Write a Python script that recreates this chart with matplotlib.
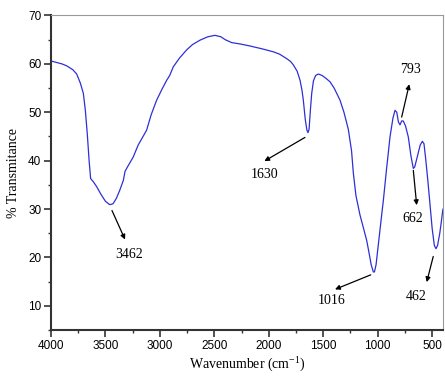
import matplotlib
matplotlib.use("Agg")
import matplotlib.pyplot as plt
from matplotlib.ticker import MultipleLocator

plt.rcParams["mathtext.fontset"] = "custom"
plt.rcParams["mathtext.rm"] = "Liberation Serif"
plt.rcParams["mathtext.it"] = "Liberation Serif:italic"

# FTIR spectrum
wavenumber = [4000, 3900, 3856, 3800, 3764, 3730, 3703, 3685, 3667, 3650,
              3636, 3610, 3580, 3540, 3500, 3460, 3430, 3400, 3370, 3336,
              3320, 3290, 3244, 3200, 3122, 3080, 3030, 2980, 2938, 2910,
              2877, 2820, 2754, 2700, 2632, 2560, 2494, 2440, 2400, 2341,
              2260, 2173, 2060, 1959, 1900, 1837, 1800, 1775, 1740, 1713,
              1695, 1683, 1665, 1650, 1640, 1630, 1618, 1606, 1590, 1570,
              1545, 1510, 1475, 1438, 1400, 1346, 1310, 1270, 1240, 1224,
              1200, 1163, 1130, 1101, 1080, 1060, 1040, 1030, 1015, 990,
              960, 948, 920, 887, 860, 841, 825, 810, 795, 780,
              765, 745, 719, 695, 673, 660, 640, 610, 590, 575,
              560, 540, 520, 500, 480, 465, 450, 430, 415, 403, 400]
transmittance = [60.6, 60.0, 59.6, 58.8, 57.9, 56.0, 53.9, 50.5, 45.6, 40.0,
                 36.3, 35.6, 34.6, 33.0, 31.6, 30.9, 31.1, 32.2, 33.8, 35.9,
                 37.8, 39.0, 40.8, 43.2, 46.3, 49.5, 52.5, 54.8, 56.6, 57.6,
                 59.4, 61.2, 62.9, 64.0, 64.9, 65.6, 65.9, 65.6, 65.0, 64.4,
                 64.1, 63.7, 63.1, 62.5, 62.0, 61.1, 60.5, 59.8, 58.5, 56.6,
                 54.5, 52.5, 48.5, 46.3, 45.8, 46.5, 50.5, 53.9, 56.5, 57.6,
                 57.9, 57.6, 57.0, 56.3, 55.0, 52.5, 50.0, 46.5, 42.0, 37.5,
                 32.8, 28.8, 26.0, 23.5, 21.0, 18.5, 17.0, 17.0, 18.5, 23.5,
                 29.5, 31.8, 38.0, 44.9, 48.8, 50.4, 50.0, 48.0, 47.4, 48.2,
                 48.2, 47.2, 44.9, 41.0, 38.4, 38.7, 40.5, 43.2, 44.0, 43.5,
                 40.5, 36.0, 31.0, 26.0, 22.5, 21.8, 22.5, 25.0, 27.5, 29.7, 30.0]

# peak labels: text, arrow tail (near peak), arrow head, text position
peak_labels = ["3462", "1630", "1016", "793", "662", "462"]
arrow_tail = [(3440, 29.7), (1668, 44.8), (1064, 16.4), (780, 49.0), (673, 38.0), (490, 20.2)]
arrow_head = [(3320, 23.7), (2041, 39.9), (1392, 13.4), (710, 55.8), (642, 30.8), (550, 14.9)]
label_pos = [(3281, 20.6), (2035, 37.2), (1423, 11.1), (697, 58.9), (680, 28.0), (648, 11.9)]

fig = plt.figure(figsize=(4.45, 3.76), dpi=100)
ax = fig.add_axes([0.1146, 0.1223, 0.881, 0.8365])

ax.plot(wavenumber, transmittance, color="#2f2fd6", lw=0.9)

for lab, tail, head, pos in zip(peak_labels, arrow_tail, arrow_head, label_pos):
    ax.annotate("", xy=head, xytext=tail,
                arrowprops=dict(arrowstyle="-|>", color="black", lw=0.9,
                                mutation_scale=7, shrinkA=0, shrinkB=0))
    ax.text(pos[0], pos[1], lab, ha="center", va="center",
            family="Liberation Serif", fontsize=10)

ax.set_xlim(4000, 400)
ax.set_ylim(5, 70)
ax.xaxis.set_major_locator(MultipleLocator(500))
ax.xaxis.set_minor_locator(MultipleLocator(250))
ax.yaxis.set_major_locator(MultipleLocator(10))
ax.yaxis.set_minor_locator(MultipleLocator(5))
ax.set_yticks([10, 20, 30, 40, 50, 60, 70])

for side in ["left", "bottom"]:
    ax.spines[side].set_color("#333333")
    ax.spines[side].set_linewidth(1.5)
for side in ["top", "right"]:
    ax.spines[side].set_color("#999999")
    ax.spines[side].set_linewidth(0.8)

ax.tick_params(which="major", direction="out", length=5, width=1.2,
               color="#333333", labelsize=8.5, pad=2)
ax.tick_params(which="minor", direction="out", length=2.5, width=1.0,
               color="#333333")
for lbl in ax.get_xticklabels() + ax.get_yticklabels():
    lbl.set_family("Liberation Sans")

ax.set_xlabel("Wavenumber (cm$^{-1}$)", family="Liberation Serif",
              fontsize=10, labelpad=3)
ax.set_ylabel("% Transmitance", family="Liberation Serif", fontsize=10,
              labelpad=6)

fig.savefig("out.png", dpi=100)
